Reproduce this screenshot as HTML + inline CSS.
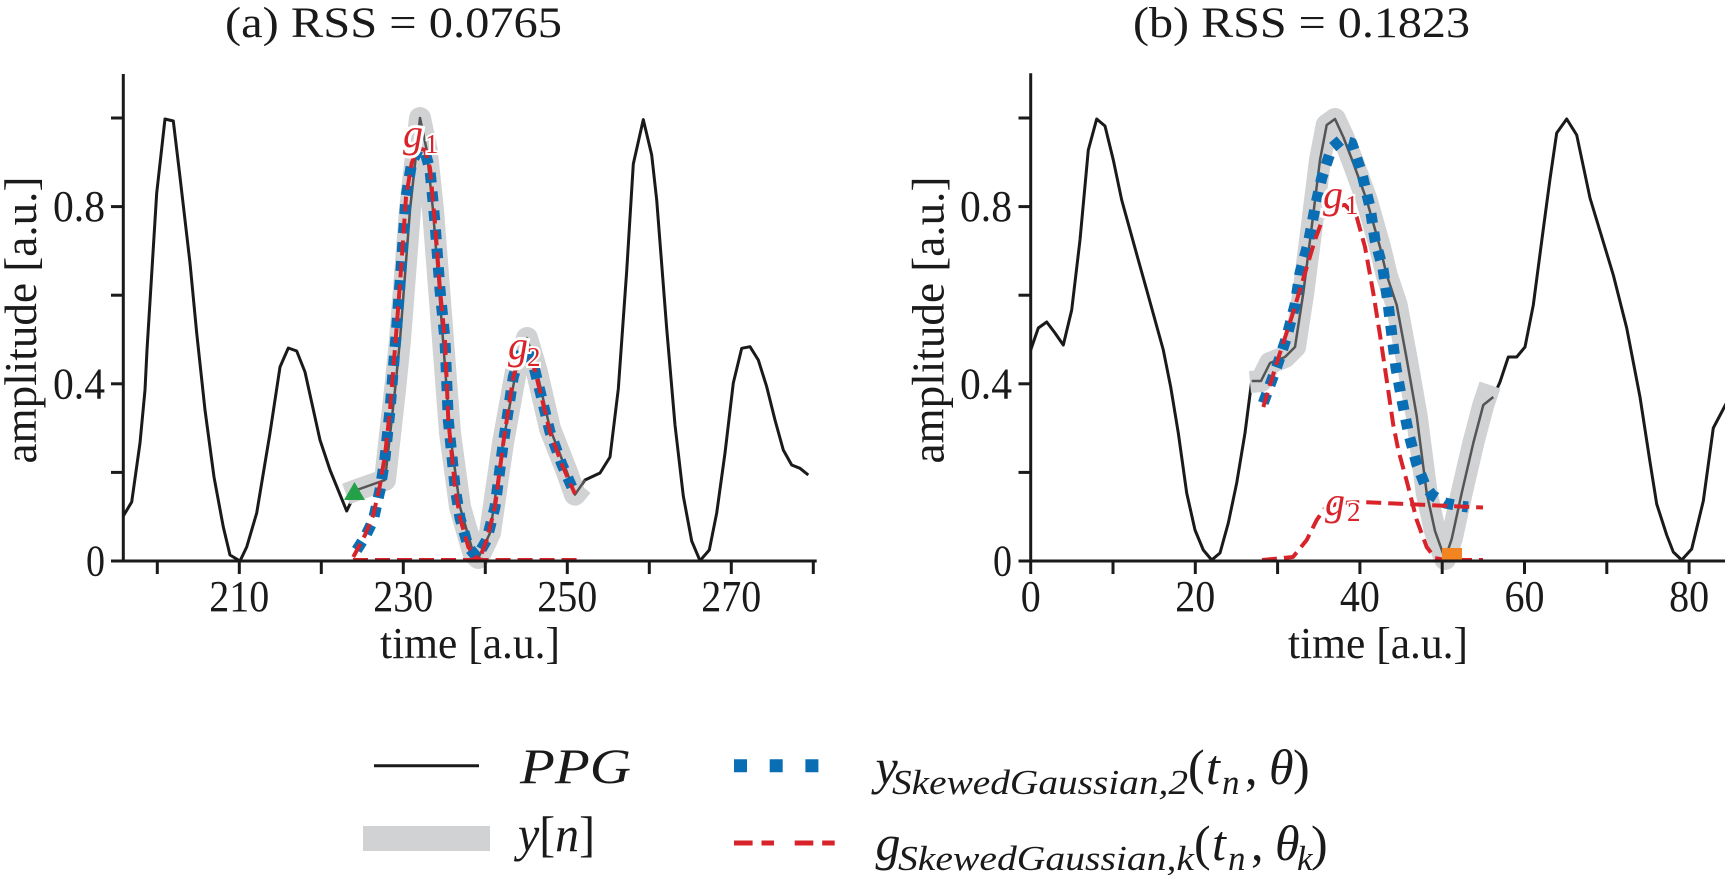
<!DOCTYPE html>
<html><head><meta charset="utf-8"><style>
html,body{margin:0;padding:0;background:#fff;}
svg{display:block;}
text{font-family:"Liberation Serif",serif;fill:#1a1a1a;}
.it{font-style:italic;}
</style></head><body>
<svg width="1725" height="875" viewBox="0 0 1725 875" xmlns="http://www.w3.org/2000/svg">
<rect width="1725" height="875" fill="#fff"/>

<!-- Titles -->
<text x="225" y="37" font-size="43" textLength="337" lengthAdjust="spacingAndGlyphs">(a) RSS = 0.0765</text>
<text x="1133" y="37" font-size="43" textLength="337" lengthAdjust="spacingAndGlyphs">(b) RSS = 0.1823</text>

<!-- ============ PANEL A ============ -->
<polyline fill="none" stroke="#1a1a1a" stroke-width="3" stroke-linejoin="round" points="123.3,516 131.7,502 140,443 145,390 147,350 156.7,193 165,119 173.3,121 180,177 190,263 196.7,333 205,410 214,477 223.3,527 230,555 240,561 246.7,547 256.7,513 270,433 280,367 288.3,348 296.7,351 305,372 320,440 330,470 346.7,511 356.7,490 385,480 395,390 400,340 410,210 420,118 426.7,150 433,210 443,340 450,433 460,507 473.3,553 478.3,558 490,533 503,443 516.7,367 527,338 536.7,371 550,428.6 566.7,471.4 575,494.6 585,480 600,473 610,457 618.3,389 626.7,271 633.3,164 643.3,119.6 651.7,155 656.7,200 666.7,328.6 675,425 683.3,496 691.7,541 700,560.7 709.3,550 716.7,513 725,453 733.3,383 741.7,348.3 750,346.7 758.3,360 766.7,386.7 775,420 783.3,450 791.7,465 800,468.3 808.3,475"/>
<polyline fill="none" stroke="#d1d2d4" stroke-width="22" stroke-linejoin="round" stroke-linecap="butt" points="346,494 356.7,490 385,480 395,390 400,340 410,210 420,118 426.7,150 433,210 443,340 450,433 460,507 473.3,553 478.3,558 490,533 503,443 516.7,367 527,338 536.7,371 550,428.6 566.7,471.4 575,494.6 582,486"/>
<polyline fill="none" stroke="#555" stroke-width="2.5" stroke-linejoin="round" points="356.7,490 385,480 395,390 400,340 410,210 420,118 426.7,150 433,210 443,340 450,433 460,507 473.3,553 478.3,558 490,533 503,443 516.7,367 527,338 536.7,371 550,428.6 566.7,471.4 575,494.6 585,480"/>
<polyline fill="none" stroke="#0a6eb4" stroke-width="11" stroke-dasharray="10 9" stroke-linejoin="round" points="356.7,550 365,537 373.3,520 380,490 385,458 390,410 396.7,327 401.7,260 406,197 411.7,163 418,150 425,152 430,170 435,223 440,290 445,340 448.3,420 455,487 460,518 468.3,547 476.7,557 486.7,540 495,507 503.3,443 513.3,377 520,355 527,350 533.3,364 541.7,398 550,432 561.7,464 575,494"/>
<polyline fill="none" stroke="#d9232a" stroke-width="4" stroke-dasharray="15 7" stroke-linejoin="round" points="353.3,557 365,535 373.3,515 380,485 385,455 390,410 396.7,327 401.7,260 406,197 411.7,163 418,148 425,150 430,168 435,223 440,290 445,340 448.3,420 455,487 460,518 468.3,547 476.7,558 482,560 577,560"/>
<polyline fill="none" stroke="#d9232a" stroke-width="4" stroke-dasharray="15 7" stroke-linejoin="round" points="353,560 470,560 480,558 486.7,540 495,507 503.3,443 513.3,377 520,355 527,350 533.3,364 541.7,398 550,432 561.7,464 575,494"/>
<polygon points="354.5,482 344,500 365,500" fill="#24a148"/>
<text x="403" y="147" font-size="40" class="it" stroke="#fff" stroke-width="6" paint-order="stroke" style="fill:#d9232a">g</text>
<text x="425" y="153" font-size="27" stroke="#fff" stroke-width="4" paint-order="stroke" style="fill:#d9232a">1</text>
<text x="508" y="359" font-size="40" class="it" stroke="#fff" stroke-width="6" paint-order="stroke" style="fill:#d9232a">g</text>
<text x="527" y="366" font-size="27" stroke="#fff" stroke-width="4" paint-order="stroke" style="fill:#d9232a">2</text>

<g stroke="#1a1a1a" stroke-width="3" fill="none">
<line x1="123.3" y1="74" x2="123.3" y2="562.5"/>
<line x1="121.8" y1="561" x2="816.7" y2="561"/>
<line x1="111" y1="561" x2="123.3" y2="561"/>
<line x1="111" y1="472.4" x2="123.3" y2="472.4"/>
<line x1="111" y1="383.8" x2="123.3" y2="383.8"/>
<line x1="111" y1="295.2" x2="123.3" y2="295.2"/>
<line x1="111" y1="206.6" x2="123.3" y2="206.6"/>
<line x1="111" y1="118" x2="123.3" y2="118"/>
<line x1="157.3" y1="561" x2="157.3" y2="574"/>
<line x1="239.3" y1="561" x2="239.3" y2="574"/>
<line x1="321.3" y1="561" x2="321.3" y2="574"/>
<line x1="403.3" y1="561" x2="403.3" y2="574"/>
<line x1="485.3" y1="561" x2="485.3" y2="574"/>
<line x1="567.3" y1="561" x2="567.3" y2="574"/>
<line x1="649.3" y1="561" x2="649.3" y2="574"/>
<line x1="731.3" y1="561" x2="731.3" y2="574"/>
<line x1="813.3" y1="561" x2="813.3" y2="574"/>
</g>
<g font-size="44" text-anchor="middle">
<text x="239.3" y="611" textLength="60" lengthAdjust="spacingAndGlyphs">210</text>
<text x="403.3" y="611" textLength="60" lengthAdjust="spacingAndGlyphs">230</text>
<text x="567.3" y="611" textLength="60" lengthAdjust="spacingAndGlyphs">250</text>
<text x="731.3" y="611" textLength="60" lengthAdjust="spacingAndGlyphs">270</text>
</g>
<g font-size="44" text-anchor="end">
<text x="105" y="575.5" textLength="19" lengthAdjust="spacingAndGlyphs">0</text>
<text x="105" y="398.3" textLength="52" lengthAdjust="spacingAndGlyphs">0.4</text>
<text x="105" y="221.1" textLength="52" lengthAdjust="spacingAndGlyphs">0.8</text>
</g>
<text x="380" y="658" font-size="44" textLength="180" lengthAdjust="spacingAndGlyphs">time [a.u.]</text>
<text transform="translate(36.1,320) rotate(-90)" text-anchor="middle" font-size="45" textLength="287" lengthAdjust="spacingAndGlyphs">amplitude [a.u.]</text>

<!-- ============ PANEL B ============ -->
<polyline fill="none" stroke="#1a1a1a" stroke-width="3" stroke-linejoin="round" points="1030.7,350 1038.3,328 1046.7,322 1055,333 1063.3,345 1071.7,310 1080,240 1088.3,150 1096.7,119 1105,126 1113.3,160 1121.7,200 1130,230 1138.3,260 1146.7,290 1155,320 1163.3,350 1170.7,387 1178.3,433 1186.7,493 1195,530 1203.3,550 1211.7,560 1220,553 1228.3,523 1236.7,483 1245,433 1251.7,381 1261,381 1270,363 1285,357 1295,347 1303.3,293 1311.7,227 1320,160 1326.7,125 1335,119 1343.3,137 1353.3,163 1366.7,200 1380,247 1386.7,275 1396.7,305 1406.7,359 1416.7,416 1426.7,493 1435,531 1445,559 1451.7,539 1461.7,493 1473.3,443 1483.3,405 1493.3,397 1500,382 1508.3,357 1516.7,357 1525,347 1533.3,305 1543.3,229 1550,179 1556.7,133 1566.7,119 1576.7,135 1590,198 1613.3,275 1626.7,328 1640,397 1650,462 1656.7,504 1666.7,535 1673.3,552 1681.7,560 1691.7,549 1703.3,501 1713.3,428 1723.3,409 1728,400"/>
<polyline fill="none" stroke="#d1d2d4" stroke-width="22" stroke-linejoin="round" stroke-linecap="butt" points="1250,382 1261,381 1270,363 1285,357 1295,347 1303.3,293 1311.7,227 1320,160 1326.7,125 1335,119 1343.3,137 1353.3,163 1366.7,200 1380,247 1386.7,275 1396.7,305 1406.7,359 1416.7,416 1426.7,493 1435,531 1445,559 1451.7,539 1461.7,493 1473.3,443 1483.3,405 1490,385"/>
<polyline fill="none" stroke="#555" stroke-width="2.5" stroke-linejoin="round" points="1251.7,381 1261,381 1270,363 1285,357 1295,347 1303.3,293 1311.7,227 1320,160 1326.7,125 1335,119 1343.3,137 1353.3,163 1366.7,200 1380,247 1386.7,275 1396.7,305 1406.7,359 1416.7,416 1426.7,493 1435,531 1445,559 1451.7,539 1461.7,493 1473.3,443 1483.3,405 1493.3,397"/>
<polyline fill="none" stroke="#0a6eb4" stroke-width="11" stroke-dasharray="10 9" stroke-linejoin="round" points="1263.3,403 1276.7,367 1286.7,337 1295,305 1300,273 1308.3,243 1315,208 1321.7,178 1331.7,148 1341,140 1351.7,143 1361.7,173 1370,207 1375,240 1383,269 1388,303 1392,336 1396,368 1401.7,399 1408.3,432 1416.7,464 1425,485 1432,495 1445,503 1460,506 1468,507"/>
<polyline fill="none" stroke="#d9232a" stroke-width="4" stroke-dasharray="15 7" stroke-linejoin="round" points="1263.3,407 1276.7,363 1291.7,317 1305,273 1315,240 1323,218 1335,206 1345,205 1356.7,217 1365,247 1373.3,293 1380,335 1386.7,380 1393.3,425 1398.3,450 1406.7,481 1416.7,520 1426.7,547 1435,558 1445,560 1483,560"/>
<polyline fill="none" stroke="#d9232a" stroke-width="4" stroke-dasharray="15 7" stroke-linejoin="round" points="1262,560 1293,557 1306.7,540 1316.7,520 1325,508 1340,503 1361.7,502 1383,503 1483,507.5"/>
<rect x="1442" y="548" width="20" height="13" fill="#f28522"/>
<text x="1323" y="208" font-size="40" class="it" stroke="#fff" stroke-width="6" paint-order="stroke" style="fill:#d9232a">g</text>
<text x="1345" y="214" font-size="27" stroke="#fff" stroke-width="4" paint-order="stroke" style="fill:#d9232a">1</text>
<text x="1325" y="515" font-size="40" class="it" stroke="#fff" stroke-width="6" paint-order="stroke" style="fill:#d9232a">g</text>
<text x="1347" y="521" font-size="27" stroke="#fff" stroke-width="4" paint-order="stroke" style="fill:#d9232a">2</text>

<g stroke="#1a1a1a" stroke-width="3" fill="none">
<line x1="1030.7" y1="73.3" x2="1030.7" y2="562.5"/>
<line x1="1029.2" y1="561" x2="1725" y2="561"/>
<line x1="1018.5" y1="561" x2="1030.7" y2="561"/>
<line x1="1018.5" y1="472.4" x2="1030.7" y2="472.4"/>
<line x1="1018.5" y1="383.8" x2="1030.7" y2="383.8"/>
<line x1="1018.5" y1="295.2" x2="1030.7" y2="295.2"/>
<line x1="1018.5" y1="206.6" x2="1030.7" y2="206.6"/>
<line x1="1018.5" y1="118" x2="1030.7" y2="118"/>
<line x1="1030.7" y1="561" x2="1030.7" y2="574"/>
<line x1="1113" y1="561" x2="1113" y2="574"/>
<line x1="1195.3" y1="561" x2="1195.3" y2="574"/>
<line x1="1277.6" y1="561" x2="1277.6" y2="574"/>
<line x1="1359.9" y1="561" x2="1359.9" y2="574"/>
<line x1="1442.2" y1="561" x2="1442.2" y2="574"/>
<line x1="1524.5" y1="561" x2="1524.5" y2="574"/>
<line x1="1606.8" y1="561" x2="1606.8" y2="574"/>
<line x1="1689.1" y1="561" x2="1689.1" y2="574"/>
</g>
<g font-size="44" text-anchor="middle">
<text x="1030.7" y="611" textLength="20" lengthAdjust="spacingAndGlyphs">0</text>
<text x="1195.3" y="611" textLength="40" lengthAdjust="spacingAndGlyphs">20</text>
<text x="1359.9" y="611" textLength="40" lengthAdjust="spacingAndGlyphs">40</text>
<text x="1524.5" y="611" textLength="40" lengthAdjust="spacingAndGlyphs">60</text>
<text x="1689.1" y="611" textLength="40" lengthAdjust="spacingAndGlyphs">80</text>
</g>
<g font-size="44" text-anchor="end">
<text x="1012" y="575.5" textLength="19" lengthAdjust="spacingAndGlyphs">0</text>
<text x="1012" y="398.3" textLength="52" lengthAdjust="spacingAndGlyphs">0.4</text>
<text x="1012" y="221.1" textLength="52" lengthAdjust="spacingAndGlyphs">0.8</text>
</g>
<text x="1288" y="658" font-size="44" textLength="180" lengthAdjust="spacingAndGlyphs">time [a.u.]</text>
<text transform="translate(943.5,320) rotate(-90)" text-anchor="middle" font-size="45" textLength="287" lengthAdjust="spacingAndGlyphs">amplitude [a.u.]</text>

<!-- ============ LEGEND ============ -->
<line x1="374" y1="765.7" x2="479" y2="765.7" stroke="#1a1a1a" stroke-width="3"/>
<text x="520" y="783" font-size="50" class="it" textLength="111" lengthAdjust="spacingAndGlyphs">PPG</text>
<line x1="363" y1="838.5" x2="490" y2="838.5" stroke="#d1d2d4" stroke-width="25"/>
<text x="518" y="851" font-size="50" textLength="77" lengthAdjust="spacingAndGlyphs"><tspan class="it">y</tspan>[<tspan class="it">n</tspan>]</text>

<line x1="734" y1="765.7" x2="819" y2="765.7" stroke="#0a6eb4" stroke-width="13" stroke-dasharray="13 22.7"/>
<line x1="734" y1="843" x2="835" y2="843" stroke="#d9232a" stroke-width="5" stroke-dasharray="18.6 8.9 12.5 20.7"/>

<text font-size="50"><tspan x="875.5" y="784" class="it">y</tspan></text>
<text x="892" y="794" font-size="35" class="it" textLength="296" lengthAdjust="spacingAndGlyphs">SkewedGaussian,2</text>
<text font-size="50"><tspan x="1188" y="784">(</tspan><tspan x="1206" y="784" class="it">t</tspan></text>
<text x="1222" y="794" font-size="35" class="it">n</text>
<text font-size="50"><tspan x="1245" y="784">,</tspan><tspan x="1269" y="784" class="it">θ</tspan><tspan x="1293" y="784">)</tspan></text>

<text font-size="50"><tspan x="875.5" y="860" class="it">g</tspan></text>
<text x="898" y="870" font-size="35" class="it" textLength="296" lengthAdjust="spacingAndGlyphs">SkewedGaussian,k</text>
<text font-size="50"><tspan x="1194" y="860">(</tspan><tspan x="1212" y="860" class="it">t</tspan></text>
<text x="1228" y="870" font-size="35" class="it">n</text>
<text font-size="50"><tspan x="1251" y="860">,</tspan><tspan x="1275" y="860" class="it">θ</tspan></text>
<text x="1297" y="870" font-size="35" class="it">k</text>
<text x="1311" y="860" font-size="50">)</text>
</svg>
</body></html>
